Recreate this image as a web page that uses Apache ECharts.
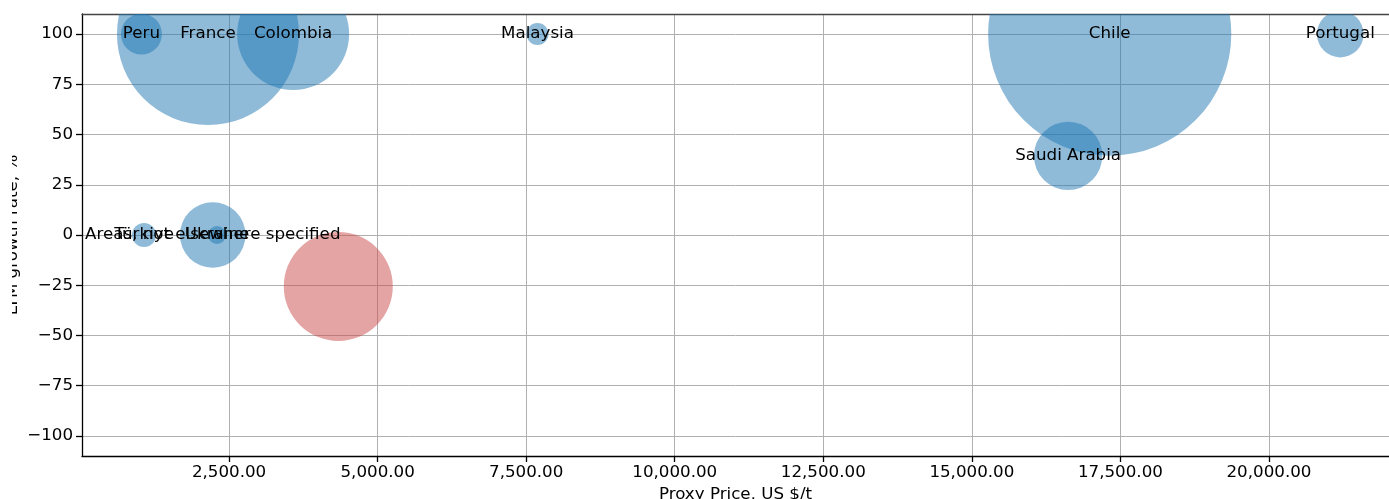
<!DOCTYPE html>
<html>
<head>
<meta charset="utf-8">
<script src="https://cdn.jsdelivr.net/npm/echarts@6/dist/echarts.min.js"></script>
<style>
  html, body { margin: 0; padding: 0; background: #fff; }
  #chart { width: 1389px; height: 499px; }
</style>
</head>
<body>
<div id="chart"></div>
<script>
// bubble data
const countries = ['Peru', 'France', 'Colombia', 'Malaysia', 'Chile', 'Portugal', 'Saudi Arabia',
    'Türkiye', 'Areas, not elsewhere specified', 'Ukraine', ''];
const proxyPrice = [1025, 2145, 3578, 7690, 17320, 21200, 16620, 1069, 2225, 2297, 4338];
const ltmGrowth = [100, 100, 100, 100, 100, 100, 39.4, 0, 0, 0, -25.6];
const volume = [420, 8281, 3136, 121, 14786, 543, 1170, 144, 1076, 81, 2970];

const xTicks = [2500, 5000, 7500, 10000, 12500, 15000, 17500, 20000];
const yTicks = [-100, -75, -50, -25, 0, 25, 50, 75, 100];

const FONT = 'DejaVu Sans';
const FS = 16.7;

const points = countries.map((name, i) => [proxyPrice[i], ltmGrowth[i], volume[i], name]);

const chart = echarts.init(document.getElementById('chart'));

const option = {
    animation: false,
    textStyle: { fontFamily: FONT },
    grid: { left: 82, top: 14, right: 0, bottom: 43, containLabel: false, outerBoundsMode: 'none' },
    // the source figure is cropped on the left, cutting the y title
    graphic: [{
        type: 'rect',
        left: 0, top: 0, z: 100,
        shape: { width: 12, height: 499 },
        style: { fill: '#fff' }
    }],
    xAxis: [{
        type: 'value',
        min: 25,
        max: 22020,
        name: 'Proxy Price, US $/t',
        nameLocation: 'middle',
        nameGap: 30,
        nameMoveOverlap: false,
        nameTextStyle: { color: '#000', fontSize: FS, fontFamily: FONT },
        axisLine: { show: true, onZero: false, lineStyle: { color: '#000', width: 1.3 } },
        axisTick: { show: true, length: 6, customValues: xTicks, lineStyle: { color: '#000', width: 1.3 } },
        axisLabel: {
            customValues: xTicks,
            color: '#000', fontSize: FS, fontFamily: FONT, margin: 8,
            formatter: v => v.toLocaleString('en-US', { minimumFractionDigits: 2, maximumFractionDigits: 2 })
        },
        splitLine: { show: true, lineStyle: { color: '#b0b0b0', width: 1 } }
    }, {
        // top spine
        type: 'value',
        position: 'top',
        min: 25,
        max: 22020,
        axisLine: { show: true, onZero: false, lineStyle: { color: '#444', width: 1.3 } },
        axisTick: { show: false },
        axisLabel: { show: false },
        splitLine: { show: false }
    }],
    yAxis: {
        type: 'value',
        min: -110,
        max: 110,
        name: 'LTM growth rate, %',
        nameLocation: 'middle',
        nameGap: 61,
        nameMoveOverlap: false,
        nameTextStyle: { color: '#000', fontSize: FS, fontFamily: FONT },
        axisLine: { show: true, onZero: false, lineStyle: { color: '#000', width: 1.3 } },
        axisTick: { show: true, length: 6, customValues: yTicks, lineStyle: { color: '#000', width: 1.3 } },
        axisLabel: {
            customValues: yTicks,
            color: '#000', fontSize: FS, fontFamily: FONT, margin: 9,
            formatter: v => (v < 0 ? '\u2212' + Math.abs(v) : String(v))
        },
        splitLine: { show: true, lineStyle: { color: '#b0b0b0', width: 1 } }
    },
    series: [{
        type: 'custom',
        clip: true,
        data: points,
        encode: { x: 0, y: 1 },
        renderItem: (params, api) => {
            const p = api.coord([api.value(0), api.value(1)]);
            const r = Math.sqrt(api.value(2));
            const name = points[params.dataIndex][3];
            const neg = api.value(1) < 0;
            return {
                type: 'circle',
                shape: { cx: p[0], cy: p[1], r: r },
                style: { fill: neg ? 'rgba(201,73,73,0.5)' : 'rgba(31,119,180,0.5)' },
                textContent: {
                    style: { text: name, fill: '#000', fontSize: FS, fontFamily: FONT }
                },
                textConfig: { position: 'inside' }
            };
        }
    }]
};

chart.setOption(option);
window.addEventListener('resize', () => chart.resize());
</script>
</body>
</html>
